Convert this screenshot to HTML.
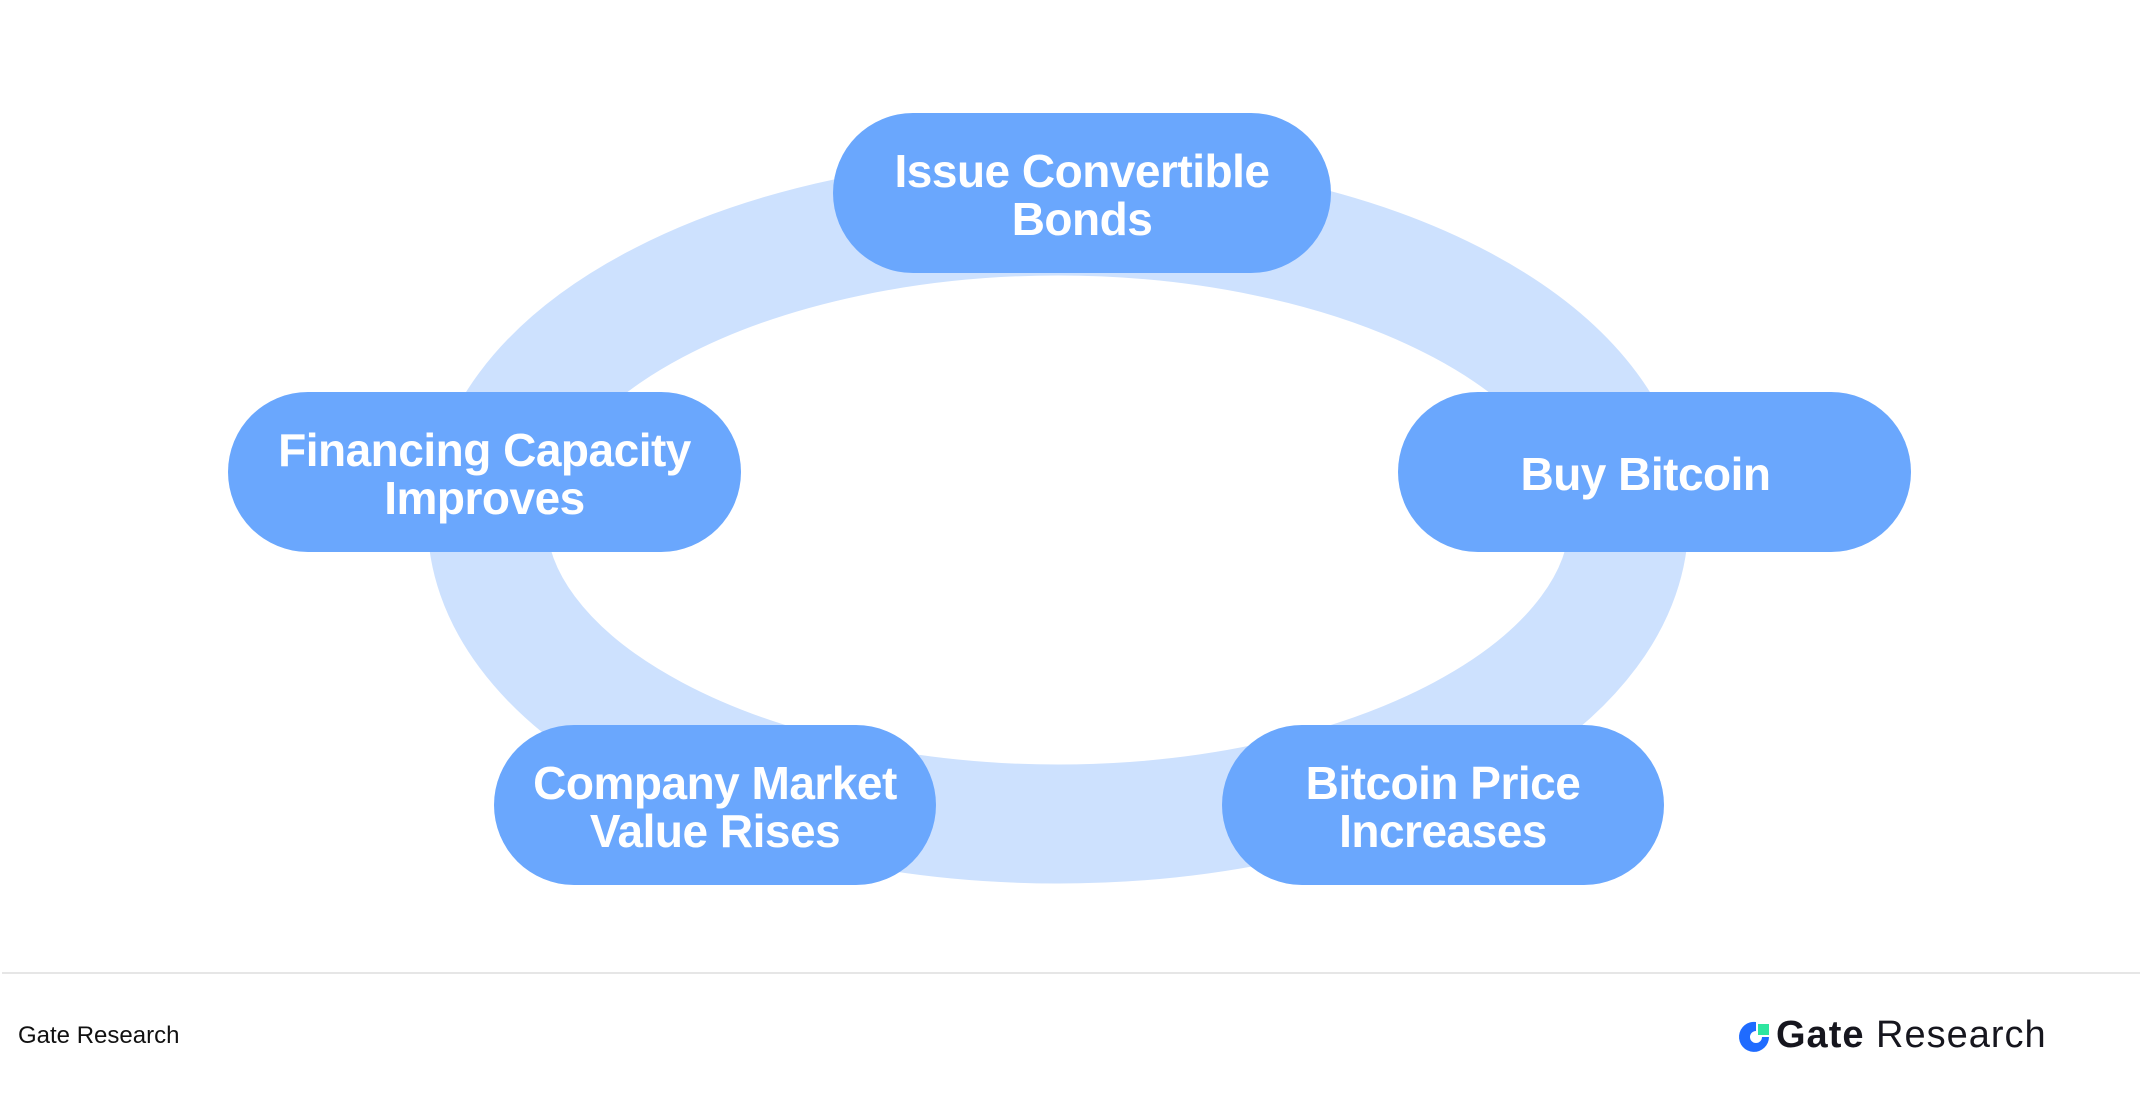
<!DOCTYPE html>
<html><head><meta charset="utf-8"><style>
html,body{margin:0;padding:0;background:#fff;}
body{width:2140px;height:1102px;position:relative;overflow:hidden;font-family:"Liberation Sans",sans-serif;}
.n{position:absolute;background:#6aa7fd;border-radius:80px;color:#fff;font-weight:bold;font-size:46px;line-height:48px;display:flex;align-items:center;justify-content:center;text-align:center;letter-spacing:-0.5px;padding-top:3px;box-sizing:border-box;}
</style></head><body>
<svg width="2140" height="1102" style="position:absolute;left:0;top:0">
<ellipse cx="1058" cy="520" rx="571" ry="304" fill="none" stroke="#cde1fe" stroke-width="119"/>
<line x1="2" y1="973" x2="2140" y2="973" stroke="#e6e6e6" stroke-width="2"/>
<path d="M1769 1037 A15 15 0 1 1 1756 1022 L1756 1031 A6 6 0 1 0 1762 1037 Z" fill="#1f6bff"/>
<rect x="1758" y="1024" width="11" height="11" fill="#2ee6a0"/>
</svg>
<div class="n" style="left:833px;top:113px;width:498px;height:160px">Issue Convertible<br>Bonds</div>
<div class="n" style="left:228px;top:392px;width:513px;height:160px">Financing Capacity<br>Improves</div>
<div class="n" style="left:1398px;top:392px;width:513px;height:160px;padding-right:18px">Buy Bitcoin</div>
<div class="n" style="left:494px;top:725px;width:442px;height:160px">Company Market<br>Value Rises</div>
<div class="n" style="left:1222px;top:725px;width:442px;height:160px">Bitcoin Price<br>Increases</div>
<div style="position:absolute;left:18px;top:1022px;font-size:24px;color:#111">Gate Research</div>
<div style="position:absolute;left:1776px;top:1014px;font-size:38px;letter-spacing:1px;color:#16161e;white-space:nowrap"><b>Gate</b> Research</div>
</body></html>
